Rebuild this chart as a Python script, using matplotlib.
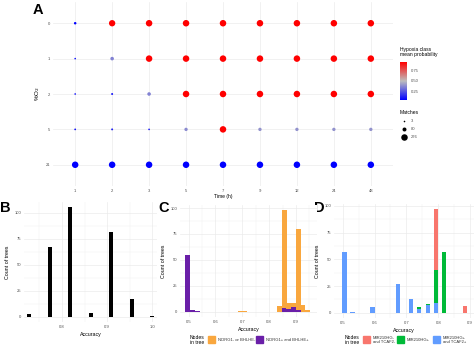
import matplotlib
matplotlib.use('Agg')
import matplotlib.pyplot as plt
import numpy as np
from matplotlib.colors import LinearSegmentedColormap, Normalize
from matplotlib.patches import Rectangle

plt.rcParams['font.family'] = ['Liberation Sans', 'DejaVu Sans']

# ---- panel A data ----
times = ['1', '2', '3', '5', '7', '9', '12', '24', '48']
o2_levels = ['0', '1', '2', '5', '21']
prob_0 = [0.06, 0.94, 0.94, 0.94, 0.94, 0.94, 0.94, 0.94, 0.94]
prob_1 = [0.08, 0.36, 0.94, 0.94, 0.94, 0.94, 0.94, 0.94, 0.94]
prob_2 = [0.08, 0.10, 0.36, 0.94, 0.94, 0.94, 0.94, 0.94, 0.94]
prob_5 = [0.10, 0.14, 0.12, 0.38, 0.94, 0.40, 0.40, 0.40, 0.40]
prob_21 = [0.06, 0.06, 0.06, 0.06, 0.06, 0.06, 0.06, 0.06, 0.06]
match_0 = [20, 260, 276, 276, 276, 276, 276, 276, 276]
match_1 = [3, 60, 276, 276, 276, 276, 276, 276, 276]
match_2 = [3, 8, 60, 276, 276, 276, 276, 276, 276]
match_5 = [5, 8, 4, 50, 276, 50, 50, 50, 50]
match_21 = [276, 276, 276, 276, 276, 276, 276, 276, 276]
match_breaks = [3, 80, 276]
prob_breaks = [0.25, 0.50, 0.75]

# ---- panel B data ----
b_acc = [16/22, 17/22, 18/22, 19/22, 20/22, 21/22, 22/22]
b_count = [2, 67, 105, 3, 81, 17, 1]

# ---- panel C data ----
c_acc = [0.497, 0.515, 0.532, 0.693, 0.710, 0.838, 0.856, 0.873, 0.891, 0.908, 0.926, 0.943]
c_both = [55, 2, 1, 0, 0, 0, 4, 3, 5, 2, 0, 0]
c_either = [0, 0, 0, 1, 1, 6, 94, 6, 4, 78, 7, 2]
c_labels = ['NDRG1- or BHLHE-', 'NDRG1+ and BHLHE+']

# ---- panel D data ----
d_acc = [0.506, 0.531, 0.594, 0.673, 0.714, 0.739, 0.767, 0.793, 0.818, 0.884]
d_both_pos = [57, 1, 5, 27, 13, 4, 7, 9, 0, 0]
d_mir_pos = [0, 0, 0, 0, 0, 1, 1, 31, 57, 0]
d_both_neg = [0, 0, 0, 0, 0, 0, 0, 57, 0, 6]
d_labels = ['MIR210HG-\nand TCAF2-', 'MIR210HG+', 'MIR210HG+\nand TCAF2+']

W, H = 474, 348
fig = plt.figure(figsize=(W/100, H/100), dpi=100)

def add_ax(x0, y0, x1, y1):
    return fig.add_axes([x0/W, 1 - y1/H, (x1 - x0)/W, (y1 - y0)/H])

tick_col = '#4D4D4D'
grid_col = '#EBEBEB'

def style(ax):
    for s in ax.spines.values():
        s.set_visible(False)
    ax.tick_params(which='both', length=0, labelsize=3, labelcolor=tick_col, pad=2)
    ax.grid(True, which='major', color=grid_col, lw=0.5)
    ax.grid(True, which='minor', color=grid_col, lw=0.25)
    ax.set_axisbelow(True)

# ---- A ----
cmap = LinearSegmentedColormap.from_list('hyp', ['#0000FF', '#BEBEBE', '#FF0000'])
norm = Normalize(0.06, 0.94)
probs = [prob_0, prob_1, prob_2, prob_5, prob_21]
matches = [match_0, match_1, match_2, match_5, match_21]

def msize(m):
    lo, hi = np.sqrt(3), np.sqrt(276)
    d_px = 1.6 + (np.sqrt(np.array(m, float)) - lo) / (hi - lo) * 4.9
    return (d_px * 0.72) ** 2

axA = add_ax(53, 2, 393, 186)
style(axA)
for i, lev in enumerate(o2_levels):
    axA.scatter(np.arange(len(times)), [i] * len(times), s=msize(matches[i]),
                c=probs[i], cmap=cmap, norm=norm, linewidths=0, zorder=3)
axA.set_xticks(range(len(times)))
axA.set_xticklabels(times)
axA.set_yticks(range(len(o2_levels)))
axA.set_yticklabels(o2_levels)
axA.set_xlim(-0.6, len(times) - 0.4)
axA.set_ylim(len(o2_levels) - 0.4, -0.6)
axA.set_xlabel('Time (h)', fontsize=3.6, labelpad=1)
axA.set_ylabel('%O$_2$', fontsize=4.5, labelpad=3)

# colorbar
cax = add_ax(400, 62, 407, 100)
cb = fig.colorbar(plt.cm.ScalarMappable(norm=norm, cmap=cmap), cax=cax)
cb.outline.set_visible(False)
cb.set_ticks(prob_breaks)
cb.set_ticklabels(['%.2f' % v for v in prob_breaks])
cax.tick_params(length=1.5, width=0.4, color='white', labelsize=3, labelcolor=tick_col, pad=1.5)
fig.text(400/W, 1 - 52/H, 'Hypoxia class\nmean probability', fontsize=3.6, va='center', ha='left', linespacing=1.1)

# overlay for legends and panel letters
lay = fig.add_axes([0, 0, 1, 1])
lay.set_xlim(0, W)
lay.set_ylim(H, 0)
lay.axis('off')
lay.text(400, 113, 'Matches', fontsize=3.6, va='center')
for k, m in enumerate(match_breaks):
    lay.scatter([404], [121 + 8 * k], s=msize([m]), color='black', linewidths=0)
    lay.text(411, 121 + 8 * k, str(m), fontsize=3, color=tick_col, va='center')

for lbl, x, y in [('A', 33, 10), ('B', 0, 208), ('C', 158, 208), ('D', 314, 208)]:
    lay.text(x, y, lbl, fontsize=10.5, fontweight='bold', va='center', ha='left')

# ---- B ----
axB = add_ax(24, 202, 157, 322)
style(axB)
axB.bar(b_acc, b_count, width=0.009, color='black', zorder=3)
axB.set_xlim(0.7156, 1.011)
axB.set_ylim(-5.25, 110.25)
axB.set_xticks([0.8, 0.9, 1.0])
axB.set_xticks([0.75, 0.85, 0.95], minor=True)
axB.set_yticks([0, 25, 50, 75, 100])
axB.set_yticks([12.5, 37.5, 62.5, 87.5], minor=True)
axB.set_xlabel('Accuracy', fontsize=3.8, labelpad=2)
axB.set_ylabel('Count of trees', fontsize=3.8, labelpad=3)

# ---- C ----
c_cols = ['#F9A73E', '#6A1FA8']
axC = add_ax(180, 205, 317, 317)
style(axC)
axC.bar(c_acc, c_both, width=0.0175, color=c_cols[1], zorder=3)
axC.bar(c_acc, c_either, width=0.0175, bottom=c_both, color=c_cols[0], zorder=3)
axC.set_xlim(0.468, 0.978)
axC.set_ylim(-4.9, 102.9)
axC.set_xticks([0.5, 0.6, 0.7, 0.8, 0.9])
axC.set_xticks([0.55, 0.65, 0.75, 0.85, 0.95], minor=True)
axC.set_yticks([0, 25, 50, 75, 100])
axC.set_yticks([12.5, 37.5, 62.5, 87.5], minor=True)
axC.set_xlabel('Accuracy', fontsize=3.8, labelpad=2)
axC.set_ylabel('Count of trees', fontsize=3.8, labelpad=3)

lay.text(190, 340, 'Nodes\nin tree', fontsize=3.6, va='center', linespacing=1.0)
for k, (x0, lbl) in enumerate([(208, c_labels[0]), (256, c_labels[1])]):
    lay.add_patch(Rectangle((x0, 336), 7, 7, color=c_cols[k]))
    lay.text(x0 + 10, 340, lbl, fontsize=3, va='center', color='#333333')

# ---- D ----
d_cols = ['#F8766D', '#00BA38', '#619CFF']
axD = add_ax(334, 204, 474, 318)
style(axD)
d_bottom2 = np.array(d_both_pos) + np.array(d_mir_pos)
axD.bar(d_acc, d_both_pos, width=0.0135, color=d_cols[2], zorder=3)
axD.bar(d_acc, d_mir_pos, width=0.0135, bottom=d_both_pos, color=d_cols[1], zorder=3)
axD.bar(d_acc, d_both_neg, width=0.0135, bottom=d_bottom2, color=d_cols[0], zorder=3)
axD.set_xlim(0.473, 0.912)
axD.set_ylim(-4.85, 101.85)
axD.set_xticks([0.5, 0.6, 0.7, 0.8, 0.9])
axD.set_xticks([0.55, 0.65, 0.75, 0.85], minor=True)
axD.set_yticks([0, 25, 50, 75, 100])
axD.set_yticks([12.5, 37.5, 62.5, 87.5], minor=True)
axD.set_xlabel('Accuracy', fontsize=3.8, labelpad=2)
axD.set_ylabel('Count of trees', fontsize=3.8, labelpad=3)

lay.text(345, 340, 'Nodes\nin tree', fontsize=3.6, va='center', linespacing=1.0)
for k, x0 in enumerate([363, 397, 433]):
    lay.add_patch(Rectangle((x0, 336), 7, 7, color=d_cols[k]))
    lay.text(x0 + 10, 340, d_labels[k], fontsize=3, va='center', color='#333333', linespacing=1.0)

fig.savefig('out.png', dpi=100, facecolor='white')
